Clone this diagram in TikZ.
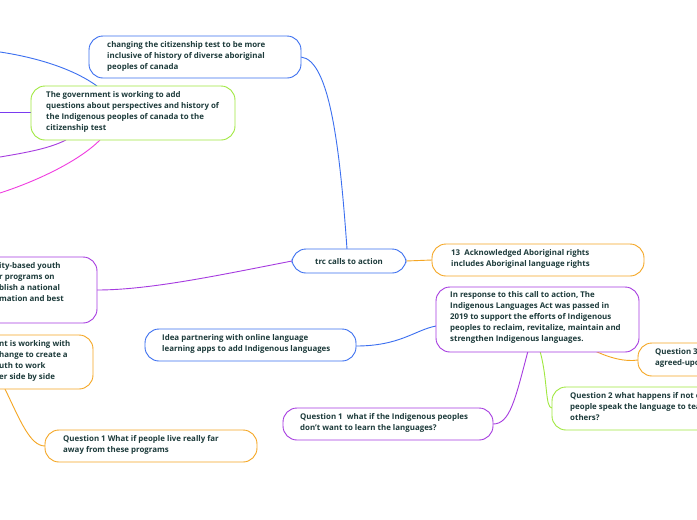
\documentclass[tikz,border=0pt]{standalone}
\usepackage{fontspec}
\setmainfont{Open Sans}
\begin{document}
\begin{tikzpicture}[x=1pt,y=-1pt,
  txt/.style={font=\fontsize{7.9}{11}\selectfont\bfseries, text=tc, align=left, inner sep=0pt, anchor=north west},
  box/.style={draw=#1, line width=0.9pt, rounded corners=14pt, fill=white},
  ln/.style={draw=#1, line width=0.9pt}]
\definecolor{tc}{HTML}{1D3B3B}
\definecolor{cb}{HTML}{3B6FF0}
\definecolor{cg}{HTML}{A0E840}
\definecolor{cp}{HTML}{A63BE0}
\definecolor{co}{HTML}{F5A623}
\definecolor{cm}{HTML}{F03BE0}
\definecolor{cv}{HTML}{7A3BF0}
\useasboundingbox[fill=white] (0,0) rectangle (697,520);
\coordinate (l1) at (0,52);
\coordinate (l2) at (0,112);
\coordinate (l3) at (0,157);
\coordinate (l4) at (0,193);
\draw[ln=cb] (l1) .. controls (40,58) and (75,70) .. (97,86);
\draw[ln=cv] (l2) -- (31,112);
\draw[ln=cp] (l3) .. controls (30,152) and (50,148) .. (66,140);
\draw[ln=cm] (l4) .. controls (40,180) and (80,160) .. (100,140);
\draw[ln=cb] (347,249) .. controls (340,150) and (330,60) .. (301,57);
\draw[ln=cp] (292,261) .. controls (220,275) and (150,290) .. (97,290);
\draw[ln=co] (406,261) -- (432,260);
\draw[ln=cb] (356,346) .. controls (400,346) and (415,330) .. (436,326);
\draw[ln=co] (595,351) .. controls (610,358) and (625,362) .. (638,360);
\draw[ln=cg] (540,351) .. controls (548,380) and (545,408) .. (552,408);
\draw[ln=cp] (528,351) .. controls (515,400) and (510,424) .. (493,424);
\draw[ln=co] (5,389) .. controls (20,420) and (30,446) .. (45,446);
\draw[box=cb] (292,249) rectangle (406,273);
\node[txt, anchor=center] (c) at (349,261.5) {trc calls to action};
\draw[box=cb] (89,36) rectangle (301,78);
\node[txt] (a) at (107,41.5) {changing the citizenship test to be more\\inclusive of history of diverse aboriginal\\peoples of canada};
\draw[box=cg] (31,86) rectangle (235,140);
\node[txt] (b) at (46,91.5) {The government is working to add\\questions about perspectives and history of\\the Indigenous peoples of canada to the\\citizenship test};
\draw[box=cp] (-40,257) rectangle (97,323);
\node[txt] (cc) at (-1,262.5) {ity-based youth\\r programs on\\blish a national\\mation and best};
\draw[box=co] (-40,335) rectangle (93,389);
\node[txt] (d) at (-1,340.5) {nt is working with\\hange to create a\\uth to work\\er side by side};
\draw[box=co] (45,430) rectangle (257,462);
\node[txt] (e) at (63,435) {Question 1 What if people live really far\\away from these programs};
\draw[box=cb] (145,329) rectangle (356,361);
\node[txt] (f) at (162,334) {Idea partnering with online language\\learning apps to add Indigenous languages};
\draw[box=co] (432,244) rectangle (644,276);
\node[txt] (g) at (451,249) {13~ Acknowledged Aboriginal rights\\includes Aboriginal language rights};
\draw[box=cp] (436,287) rectangle (639,352);
\node[txt] (h) at (450,291.5) {In response to this call to action, The\\Indigenous Languages Act was passed in\\2019 to support the efforts of Indigenous\\peoples to reclaim, revitalize, maintain and\\strengthen Indigenous languages.};
\draw[box=co] (638,343) rectangle (760,376);
\node[txt] (i) at (655,348) {Question 3 what if there is no\\agreed-upon way};
\draw[box=cg] (552,387) rectangle (760,430);
\node[txt] (j) at (570,392.5) {Question 2 what happens if not enough\\people speak the language to teach\\others?};
\draw[box=cp] (283,408) rectangle (493,440);
\node[txt] (k) at (300,413) {Question 1~ what if the Indigenous peoples\\don't want to learn the languages?};
\end{tikzpicture}
\end{document}
